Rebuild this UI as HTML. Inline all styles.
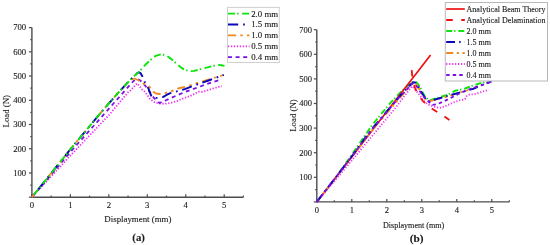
<!DOCTYPE html>
<html><head><meta charset="utf-8"><title>Load vs Displayment</title>
<style>
html,body{margin:0;padding:0;background:#fff;}
body{width:550px;height:245px;overflow:hidden;}
svg{display:block;}
text{fill:#1a1a1a;font-family:"Liberation Serif", "Times New Roman", serif;stroke:#1a1a1a;stroke-width:0.12px;}
</style></head>
<body>
<svg width="550" height="245" viewBox="0 0 550 245">
<rect width="550" height="245" fill="#fff"/>
<line x1="31.9" y1="27.59" x2="31.9" y2="197.2" stroke="#4c4c4c" stroke-width="1.4"/>
<line x1="31.20" y1="197.2" x2="243.43" y2="197.2" stroke="#4c4c4c" stroke-width="1.4"/>
<line x1="28.90" y1="197.20" x2="31.9" y2="197.20" stroke="#4c4c4c" stroke-width="1.2"/>
<line x1="30.30" y1="185.08" x2="31.9" y2="185.08" stroke="#4c4c4c" stroke-width="1.2"/>
<line x1="28.90" y1="172.97" x2="31.9" y2="172.97" stroke="#4c4c4c" stroke-width="1.2"/>
<text x="26.20" y="175.84" text-anchor="end" font-size="8.7">100</text>
<line x1="30.30" y1="160.85" x2="31.9" y2="160.85" stroke="#4c4c4c" stroke-width="1.2"/>
<line x1="28.90" y1="148.74" x2="31.9" y2="148.74" stroke="#4c4c4c" stroke-width="1.2"/>
<text x="26.20" y="151.61" text-anchor="end" font-size="8.7">200</text>
<line x1="30.30" y1="136.62" x2="31.9" y2="136.62" stroke="#4c4c4c" stroke-width="1.2"/>
<line x1="28.90" y1="124.51" x2="31.9" y2="124.51" stroke="#4c4c4c" stroke-width="1.2"/>
<text x="26.20" y="127.38" text-anchor="end" font-size="8.7">300</text>
<line x1="30.30" y1="112.39" x2="31.9" y2="112.39" stroke="#4c4c4c" stroke-width="1.2"/>
<line x1="28.90" y1="100.28" x2="31.9" y2="100.28" stroke="#4c4c4c" stroke-width="1.2"/>
<text x="26.20" y="103.15" text-anchor="end" font-size="8.7">400</text>
<line x1="30.30" y1="88.16" x2="31.9" y2="88.16" stroke="#4c4c4c" stroke-width="1.2"/>
<line x1="28.90" y1="76.05" x2="31.9" y2="76.05" stroke="#4c4c4c" stroke-width="1.2"/>
<text x="26.20" y="78.92" text-anchor="end" font-size="8.7">500</text>
<line x1="30.30" y1="63.94" x2="31.9" y2="63.94" stroke="#4c4c4c" stroke-width="1.2"/>
<line x1="28.90" y1="51.82" x2="31.9" y2="51.82" stroke="#4c4c4c" stroke-width="1.2"/>
<text x="26.20" y="54.69" text-anchor="end" font-size="8.7">600</text>
<line x1="30.30" y1="39.70" x2="31.9" y2="39.70" stroke="#4c4c4c" stroke-width="1.2"/>
<line x1="28.90" y1="27.59" x2="31.9" y2="27.59" stroke="#4c4c4c" stroke-width="1.2"/>
<text x="26.20" y="30.46" text-anchor="end" font-size="8.7">700</text>
<line x1="31.90" y1="197.2" x2="31.90" y2="194.20" stroke="#4c4c4c" stroke-width="1.2"/>
<text x="31.90" y="207.7" text-anchor="middle" font-size="8.7">0</text>
<line x1="51.13" y1="197.2" x2="51.13" y2="195.60" stroke="#4c4c4c" stroke-width="1.2"/>
<line x1="70.36" y1="197.2" x2="70.36" y2="194.20" stroke="#4c4c4c" stroke-width="1.2"/>
<text x="70.36" y="207.7" text-anchor="middle" font-size="8.7">1</text>
<line x1="89.59" y1="197.2" x2="89.59" y2="195.60" stroke="#4c4c4c" stroke-width="1.2"/>
<line x1="108.82" y1="197.2" x2="108.82" y2="194.20" stroke="#4c4c4c" stroke-width="1.2"/>
<text x="108.82" y="207.7" text-anchor="middle" font-size="8.7">2</text>
<line x1="128.05" y1="197.2" x2="128.05" y2="195.60" stroke="#4c4c4c" stroke-width="1.2"/>
<line x1="147.28" y1="197.2" x2="147.28" y2="194.20" stroke="#4c4c4c" stroke-width="1.2"/>
<text x="147.28" y="207.7" text-anchor="middle" font-size="8.7">3</text>
<line x1="166.51" y1="197.2" x2="166.51" y2="195.60" stroke="#4c4c4c" stroke-width="1.2"/>
<line x1="185.74" y1="197.2" x2="185.74" y2="194.20" stroke="#4c4c4c" stroke-width="1.2"/>
<text x="185.74" y="207.7" text-anchor="middle" font-size="8.7">4</text>
<line x1="204.97" y1="197.2" x2="204.97" y2="195.60" stroke="#4c4c4c" stroke-width="1.2"/>
<line x1="224.20" y1="197.2" x2="224.20" y2="194.20" stroke="#4c4c4c" stroke-width="1.2"/>
<text x="224.20" y="207.7" text-anchor="middle" font-size="8.7">5</text>
<line x1="243.43" y1="197.2" x2="243.43" y2="195.60" stroke="#4c4c4c" stroke-width="1.2"/>
<text transform="translate(9.3,111.2) rotate(-90)" text-anchor="middle" font-size="8.8">Load (N)</text>
<text x="137.9" y="221.9" text-anchor="middle" font-size="8.85">Displayment (mm)</text>
<text x="138.6" y="241.3" text-anchor="middle" font-size="10.8" font-weight="bold">(a)</text>
<polyline points="31.9,197.2 70.0,156.0 109.0,115.0 128.0,92.4 131.1,89.9 135.2,85.3 137.0,83.5 139.0,85.5 141.3,88.9 144.4,91.4 146.9,94.5 150.1,99.0 155.0,102.5 159.0,103.6 164.7,103.8 171.0,102.9 177.4,100.9 183.8,98.1 189.7,96.2 195.6,93.4 199.0,91.6 202.0,91.8 205.0,91.1 211.2,89.1 217.5,87.2 221.7,86.2" fill="none" stroke="#f02cf0" stroke-width="1.8" stroke-dasharray="1.30 1.65" stroke-linejoin="round"/>
<polyline points="31.9,197.2 72.2,150.0 130.1,84.8 133.5,81.0 137.0,79.0 139.5,80.0 142.3,82.2 146.6,87.5 150.0,92.5 154.0,98.0 159.5,103.0 164.2,101.1 170.8,98.0 177.8,95.0 184.9,92.0 191.9,89.5 198.5,87.1 205.5,84.5 213.0,82.0 221.7,79.5" fill="none" stroke="#7a10e8" stroke-width="1.8" stroke-dasharray="4.00 3.60" stroke-linejoin="round"/>
<polyline points="31.9,197.2 69.8,150.0 102.4,110.8 117.1,94.0 130.0,80.2 134.5,78.5 138.3,80.2 142.0,82.7 149.5,86.8 152.4,91.0 156.0,93.5 160.2,94.0 164.0,93.4 169.7,91.9 178.0,88.5 184.8,86.9 193.6,84.2 205.0,80.7 217.7,76.8 223.0,75.2" fill="none" stroke="#f08a1e" stroke-width="1.8" stroke-dasharray="8.20 4.10 2.50 4.10 2.80 4.10" stroke-linejoin="round"/>
<polyline points="31.9,197.2 69.8,150.0 102.4,110.8 117.1,94.0 132.6,77.4 135.5,75.2 136.9,73.4 138.9,72.3 140.6,73.2 142.5,76.5 144.9,82.2 148.5,88.6 151.7,97.0 155.6,97.9 158.5,97.8 161.6,97.2 163.4,96.9 166.1,95.2 169.7,93.4 176.0,91.6 185.5,88.9 194.6,85.4 210.0,80.0 223.8,74.8" fill="none" stroke="#0808b8" stroke-width="1.9" stroke-dasharray="10.20 4.90 1.70 4.70" stroke-dashoffset="11.4" stroke-linejoin="round"/>
<polyline points="31.9,197.2 69.8,150.0 102.4,110.8 117.1,94.0 132.6,77.4 139.2,71.6 145.3,64.8 150.2,60.2 155.7,55.8 161.3,54.2 167.4,56.3 171.1,58.9 177.6,64.6 182.6,68.7 189.1,71.2 194.0,70.9 200.6,69.2 208.7,67.1 216.9,65.0 221.5,65.2 224.5,65.9" fill="none" stroke="#0ee30e" stroke-width="1.9" stroke-dasharray="7.00 2.20 1.50 3.40" stroke-dashoffset="10.93" stroke-linejoin="round"/>
<rect x="227.5" y="7.4" width="51.8" height="55.1" fill="#fff" stroke="#d0d0d0" stroke-width="1"/>
<line x1="228.0" y1="13.6" x2="249.5" y2="13.6" stroke="#0ee30e" stroke-width="1.9" stroke-dasharray="7.00 2.20 1.50 3.40"/>
<text x="251.2" y="16.5" font-size="8.8">2.0 mm</text>
<line x1="228.0" y1="24.5" x2="249.5" y2="24.5" stroke="#0808b8" stroke-width="1.9" stroke-dasharray="10.20 4.90 1.70 4.70"/>
<text x="251.2" y="27.4" font-size="8.8">1.5 mm</text>
<line x1="228.0" y1="35.3" x2="249.5" y2="35.3" stroke="#f08a1e" stroke-width="1.8" stroke-dasharray="8.20 4.10 2.50 4.10 2.80 4.10"/>
<text x="251.2" y="38.2" font-size="8.8">1.0 mm</text>
<line x1="228.0" y1="46.3" x2="249.5" y2="46.3" stroke="#f02cf0" stroke-width="1.8" stroke-dasharray="1.30 1.65"/>
<text x="251.2" y="49.2" font-size="8.8">0.5 mm</text>
<line x1="228.0" y1="57.2" x2="249.5" y2="57.2" stroke="#7a10e8" stroke-width="1.8" stroke-dasharray="4.00 3.60"/>
<text x="251.2" y="60.1" font-size="8.8">0.4 mm</text>
<line x1="316.8" y1="29.70" x2="316.8" y2="201.9" stroke="#4c4c4c" stroke-width="1.4"/>
<line x1="316.10" y1="201.9" x2="509.30" y2="201.9" stroke="#4c4c4c" stroke-width="1.4"/>
<line x1="313.80" y1="201.90" x2="316.8" y2="201.90" stroke="#4c4c4c" stroke-width="1.2"/>
<line x1="315.20" y1="189.60" x2="316.8" y2="189.60" stroke="#4c4c4c" stroke-width="1.2"/>
<line x1="313.80" y1="177.30" x2="316.8" y2="177.30" stroke="#4c4c4c" stroke-width="1.2"/>
<text x="311.90" y="180.11" text-anchor="end" font-size="8.5">100</text>
<line x1="315.20" y1="165.00" x2="316.8" y2="165.00" stroke="#4c4c4c" stroke-width="1.2"/>
<line x1="313.80" y1="152.70" x2="316.8" y2="152.70" stroke="#4c4c4c" stroke-width="1.2"/>
<text x="311.90" y="155.50" text-anchor="end" font-size="8.5">200</text>
<line x1="315.20" y1="140.40" x2="316.8" y2="140.40" stroke="#4c4c4c" stroke-width="1.2"/>
<line x1="313.80" y1="128.10" x2="316.8" y2="128.10" stroke="#4c4c4c" stroke-width="1.2"/>
<text x="311.90" y="130.91" text-anchor="end" font-size="8.5">300</text>
<line x1="315.20" y1="115.80" x2="316.8" y2="115.80" stroke="#4c4c4c" stroke-width="1.2"/>
<line x1="313.80" y1="103.50" x2="316.8" y2="103.50" stroke="#4c4c4c" stroke-width="1.2"/>
<text x="311.90" y="106.31" text-anchor="end" font-size="8.5">400</text>
<line x1="315.20" y1="91.20" x2="316.8" y2="91.20" stroke="#4c4c4c" stroke-width="1.2"/>
<line x1="313.80" y1="78.90" x2="316.8" y2="78.90" stroke="#4c4c4c" stroke-width="1.2"/>
<text x="311.90" y="81.71" text-anchor="end" font-size="8.5">500</text>
<line x1="315.20" y1="66.60" x2="316.8" y2="66.60" stroke="#4c4c4c" stroke-width="1.2"/>
<line x1="313.80" y1="54.30" x2="316.8" y2="54.30" stroke="#4c4c4c" stroke-width="1.2"/>
<text x="311.90" y="57.11" text-anchor="end" font-size="8.5">600</text>
<line x1="315.20" y1="42.00" x2="316.8" y2="42.00" stroke="#4c4c4c" stroke-width="1.2"/>
<line x1="313.80" y1="29.70" x2="316.8" y2="29.70" stroke="#4c4c4c" stroke-width="1.2"/>
<text x="311.90" y="32.51" text-anchor="end" font-size="8.5">700</text>
<line x1="316.80" y1="201.9" x2="316.80" y2="198.90" stroke="#4c4c4c" stroke-width="1.2"/>
<text x="316.80" y="212.6" text-anchor="middle" font-size="8.5">0</text>
<line x1="334.30" y1="201.9" x2="334.30" y2="200.30" stroke="#4c4c4c" stroke-width="1.2"/>
<line x1="351.80" y1="201.9" x2="351.80" y2="198.90" stroke="#4c4c4c" stroke-width="1.2"/>
<text x="351.80" y="212.6" text-anchor="middle" font-size="8.5">1</text>
<line x1="369.30" y1="201.9" x2="369.30" y2="200.30" stroke="#4c4c4c" stroke-width="1.2"/>
<line x1="386.80" y1="201.9" x2="386.80" y2="198.90" stroke="#4c4c4c" stroke-width="1.2"/>
<text x="386.80" y="212.6" text-anchor="middle" font-size="8.5">2</text>
<line x1="404.30" y1="201.9" x2="404.30" y2="200.30" stroke="#4c4c4c" stroke-width="1.2"/>
<line x1="421.80" y1="201.9" x2="421.80" y2="198.90" stroke="#4c4c4c" stroke-width="1.2"/>
<text x="421.80" y="212.6" text-anchor="middle" font-size="8.5">3</text>
<line x1="439.30" y1="201.9" x2="439.30" y2="200.30" stroke="#4c4c4c" stroke-width="1.2"/>
<line x1="456.80" y1="201.9" x2="456.80" y2="198.90" stroke="#4c4c4c" stroke-width="1.2"/>
<text x="456.80" y="212.6" text-anchor="middle" font-size="8.5">4</text>
<line x1="474.30" y1="201.9" x2="474.30" y2="200.30" stroke="#4c4c4c" stroke-width="1.2"/>
<line x1="491.80" y1="201.9" x2="491.80" y2="198.90" stroke="#4c4c4c" stroke-width="1.2"/>
<text x="491.80" y="212.6" text-anchor="middle" font-size="8.5">5</text>
<line x1="509.30" y1="201.9" x2="509.30" y2="200.30" stroke="#4c4c4c" stroke-width="1.2"/>
<text transform="translate(296.0,115.5) rotate(-90)" text-anchor="middle" font-size="8.8">Load (N)</text>
<text x="413.6" y="227.7" text-anchor="middle" font-size="8.1">Displayment (mm)</text>
<text x="416.7" y="242.0" text-anchor="middle" font-size="11.3" font-weight="bold">(b)</text>
<polyline points="316.8,201.9 335.0,178.5 352.0,154.5 371.4,126.0 390.4,102.8 398.4,94.5 404.4,88.6 411.0,82.2 415.3,81.4 418.0,84.0 421.0,89.0 424.5,96.0 429.2,100.7 436.0,98.3 441.0,96.9 448.0,94.6 455.0,90.8 460.0,89.8 463.2,89.2 466.4,88.0 470.5,86.5 474.0,85.2 480.6,83.2 487.9,81.4" fill="none" stroke="#0ee30e" stroke-width="1.9" stroke-dasharray="6.02 1.89 1.29 2.92" stroke-linejoin="round"/>
<polyline points="316.8,201.9 430.6,55.1" fill="none" stroke="#ee1111" stroke-width="1.7" stroke-linejoin="round"/>
<polyline points="316.8,201.9 345.1,168.5 377.1,130.0 395.0,108.5 405.0,95.3 411.2,87.2 412.5,86.3 415.9,90.4 420.2,95.9 423.9,100.8 428.0,104.5 432.8,106.2 438.9,107.9 441.4,107.6 447.1,105.4 452.4,103.0 455.3,101.8 460.0,100.2 465.0,99.2 466.5,96.2 469.3,94.7 475.0,94.0 488.8,89.7" fill="none" stroke="#f02cf0" stroke-width="1.8" stroke-dasharray="1.20 1.76" stroke-linejoin="round"/>
<polyline points="316.8,201.9 350.0,159.5 372.0,130.5 398.5,99.5 411.0,85.0 413.5,83.3 416.0,84.5 418.0,87.0 422.0,94.0 425.5,99.0 428.5,101.5 436.0,99.5 443.9,97.5 456.7,93.5 473.2,88.5 486.0,83.5 491.0,81.5" fill="none" stroke="#f08a1e" stroke-width="1.8" stroke-dasharray="7.05 3.53 2.15 3.53 2.41 3.53" stroke-linejoin="round"/>
<polyline points="316.8,201.9 350.0,158.8 370.6,130.5 399.2,96.8 410.6,84.6 413.5,82.3 415.8,82.8 417.1,84.2 422.6,94.0 425.5,98.5 428.3,101.6 435.0,99.5 443.9,97.0 456.7,93.3 473.2,88.8 486.0,83.3 491.6,81.4" fill="none" stroke="#0808b8" stroke-width="1.9" stroke-dasharray="8.77 4.21 1.46 4.04" stroke-linejoin="round"/>
<polyline points="316.8,201.9 350.0,158.8 371.0,130.5 399.5,97.0 411.0,84.8 413.5,83.0 415.0,83.5 418.0,88.5 423.0,96.0 428.0,101.0 432.0,105.0 437.3,104.2 443.2,101.6 450.0,98.3 455.0,95.8 462.0,92.3 470.0,89.0 478.0,86.3 484.2,84.3 491.6,81.8" fill="none" stroke="#7a10e8" stroke-width="1.8" stroke-dasharray="3.44 3.10" stroke-linejoin="round"/>
<polyline points="411.7,70.1 412.4,77.5 414.9,87.3 417.8,94.6 422.7,100.8 426.4,104.4 431.0,108.0 438.3,112.6 444.0,116.2 449.4,120.0" fill="none" stroke="#ee1111" stroke-width="1.8" stroke-dasharray="6.54 8.51" stroke-linejoin="round"/>
<rect x="445.3" y="2.5" width="102.2" height="78.5" fill="#fff" stroke="#b8b8b8" stroke-width="1"/>
<line x1="446.2" y1="9" x2="464.8" y2="9" stroke="#ee1111" stroke-width="1.7"/>
<text x="466.6" y="11.7" font-size="8">Analytical Beam Theory</text>
<line x1="446.2" y1="20" x2="464.8" y2="20" stroke="#ee1111" stroke-width="1.8" stroke-dasharray="6.54 8.51"/>
<text x="466.6" y="22.7" font-size="8">Analytical Delamination</text>
<line x1="446.2" y1="31" x2="464.8" y2="31" stroke="#0ee30e" stroke-width="1.9" stroke-dasharray="6.02 1.89 1.29 2.92"/>
<text x="466.6" y="33.7" font-size="8">2.0 mm</text>
<line x1="446.2" y1="42" x2="464.8" y2="42" stroke="#0808b8" stroke-width="1.9" stroke-dasharray="8.77 4.21 1.46 4.04"/>
<text x="466.6" y="44.7" font-size="8">1.5 mm</text>
<line x1="446.2" y1="53" x2="464.8" y2="53" stroke="#f08a1e" stroke-width="1.8" stroke-dasharray="7.05 3.53 2.15 3.53 2.41 3.53"/>
<text x="466.6" y="55.7" font-size="8">1.0 mm</text>
<line x1="446.2" y1="64" x2="464.8" y2="64" stroke="#f02cf0" stroke-width="1.8" stroke-dasharray="1.20 1.76"/>
<text x="466.6" y="66.7" font-size="8">0.5 mm</text>
<line x1="446.2" y1="75" x2="464.8" y2="75" stroke="#7a10e8" stroke-width="1.8" stroke-dasharray="3.44 3.10"/>
<text x="466.6" y="77.7" font-size="8">0.4 mm</text>
</svg>
</body></html>
